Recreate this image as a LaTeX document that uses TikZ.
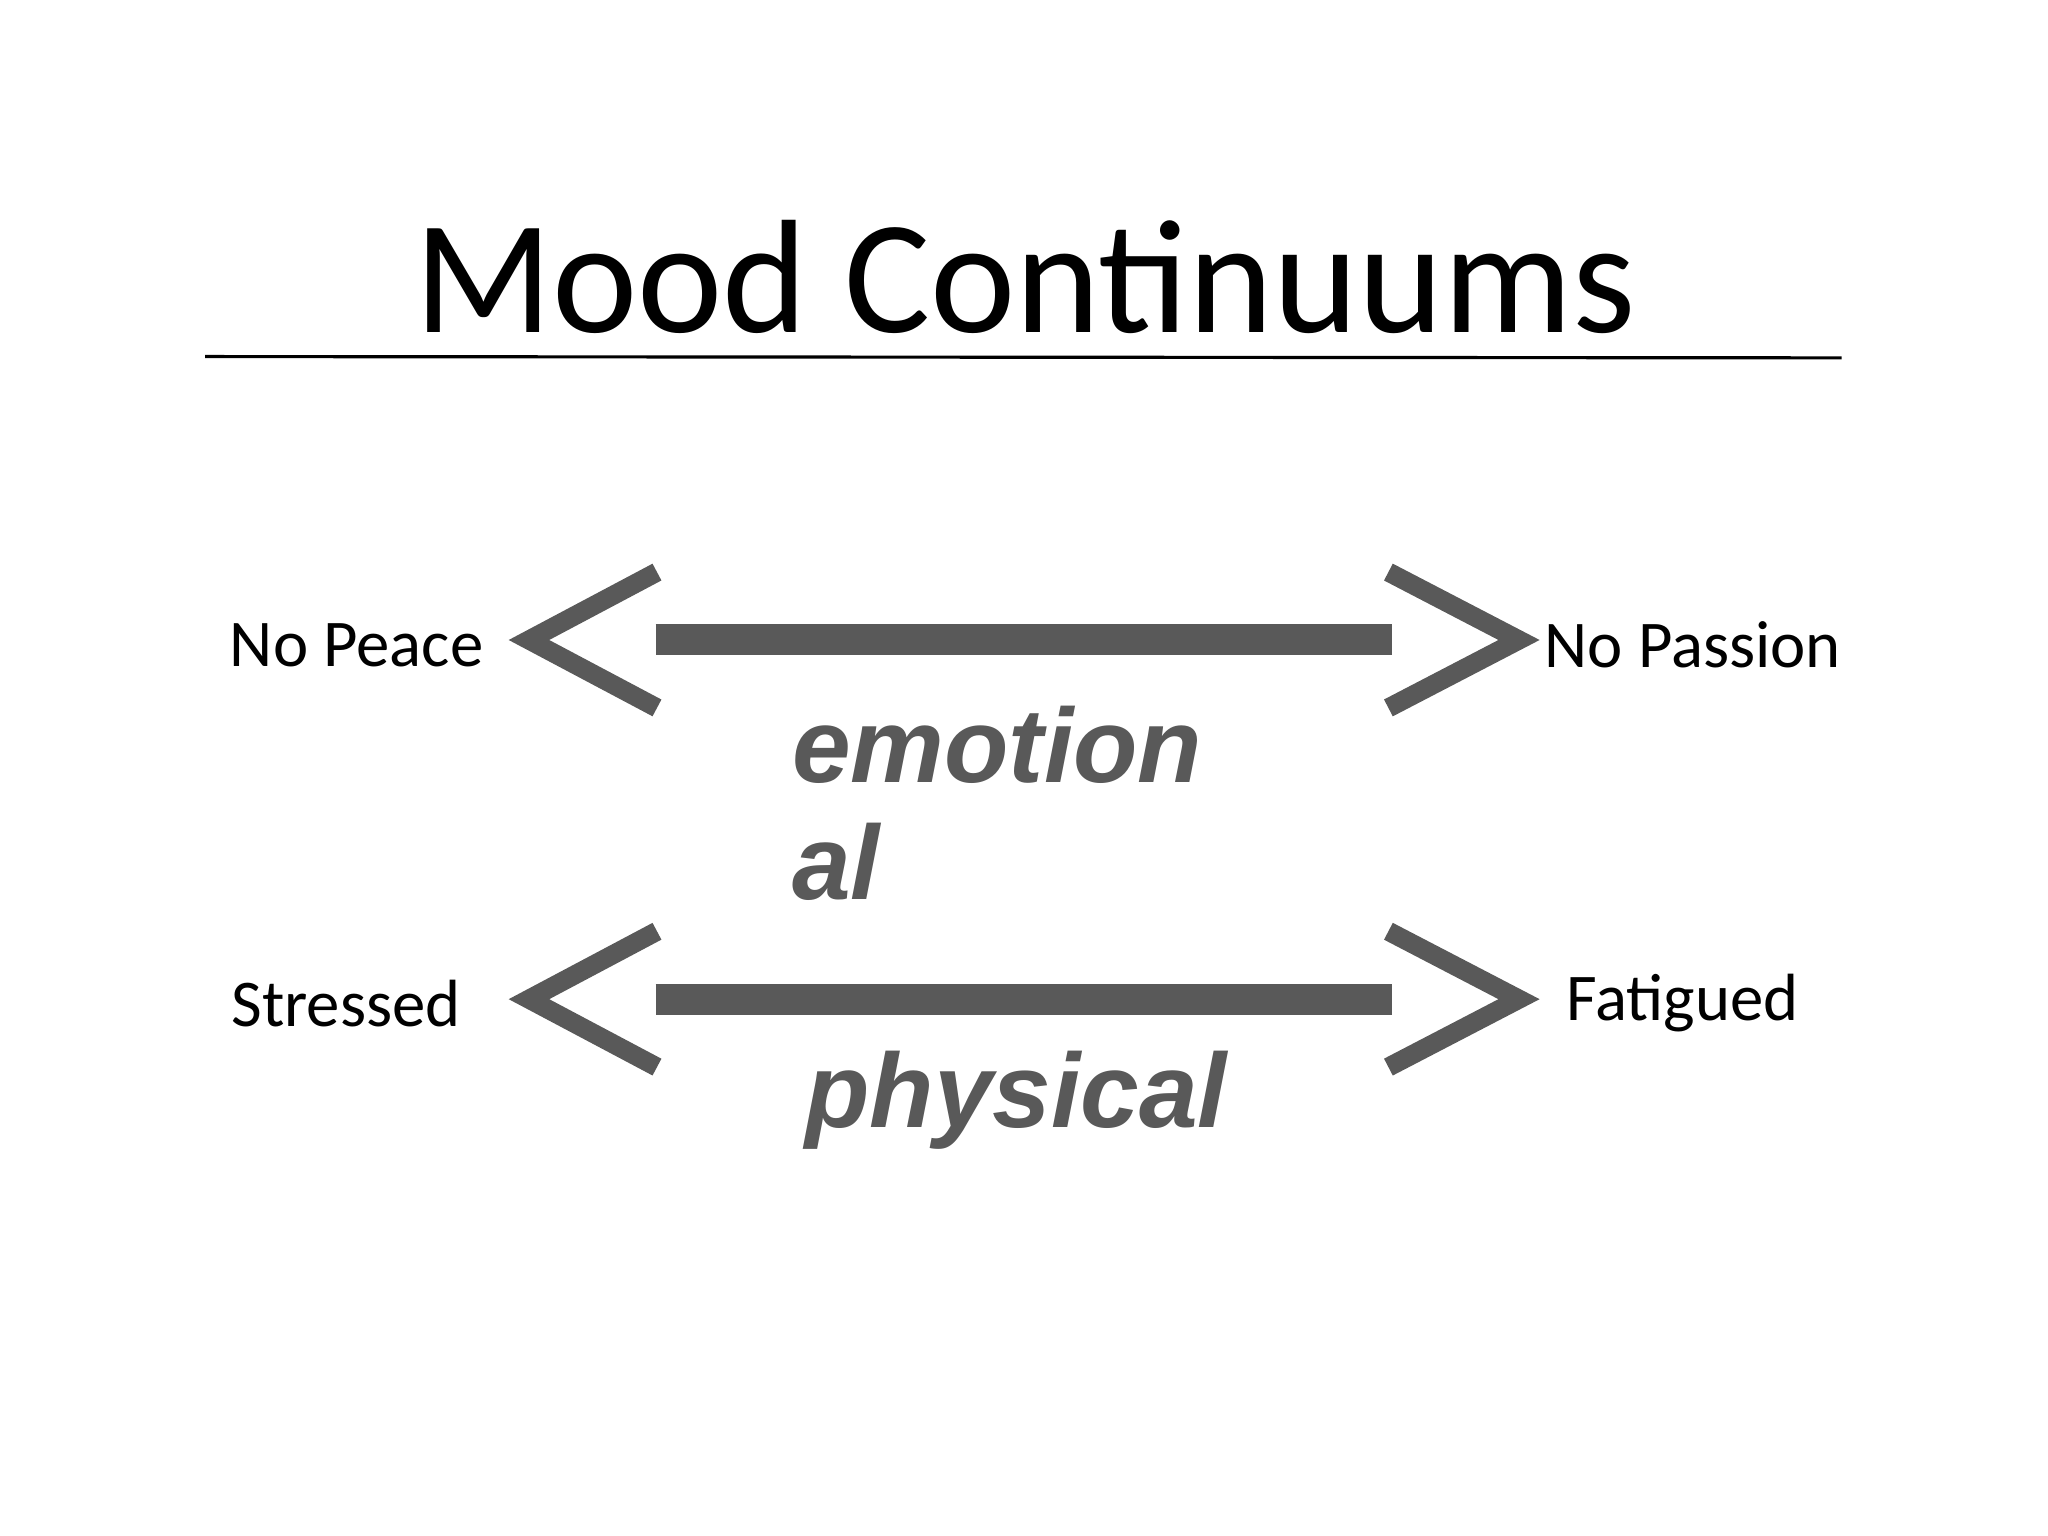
\documentclass[tikz,border=0pt]{standalone}
\usepackage{fontspec}
\setmainfont{Carlito}
\newfontfamily\heavyfont{Liberation Sans}
\definecolor{arrgray}{HTML}{595959}
\begin{document}
\begin{tikzpicture}[x=0.01306cm,y=-0.01306cm,
  bar/.style={arrgray,line width=0.31cm},
  chev/.style={arrgray,line width=0.19cm,miter limit=10},
  lab/.style={font=\fontsize{19}{22}\selectfont,inner sep=0pt},
  big/.style={font=\heavyfont\bfseries\itshape\fontsize{30}{34}\selectfont,text=arrgray,inner sep=0pt,anchor=west}]
\useasboundingbox (0,0) rectangle (1568,1176);
\node[font=\fontsize{46}{50}\selectfont,inner sep=0pt] (title) at (785,212) {Mood Continuums};
\coordinate (l1) at (157,273); \coordinate (l2) at (1410,274);
\draw[line width=0.9pt] (l1) -- (l2);
\foreach \y/\n in {490/a,765/b}{
  \coordinate (\n L) at (502,\y); \coordinate (\n R) at (1066,\y);
  \draw[bar] (\n L) -- (\n R);
  \draw[chev] (503,\y-52) -- (405,\y) -- (503,\y+52);
  \draw[chev] (1063,\y-52) -- (1163,\y) -- (1063,\y+52);
}
\node[lab] (np) at (273,494) {No Peace};
\node[lab] (npa) at (1296,494) {No Passion};
\node[lab] (st) at (265,768) {Stressed};
\node[lab] (fa) at (1288,768) {Fatigued};
\node[big] (emo) at (606,570) {emotion};
\node[big] (al) at (606,660) {al};
\node[big,anchor=center] (phy) at (778,842) {physical};
\end{tikzpicture}
\end{document}
